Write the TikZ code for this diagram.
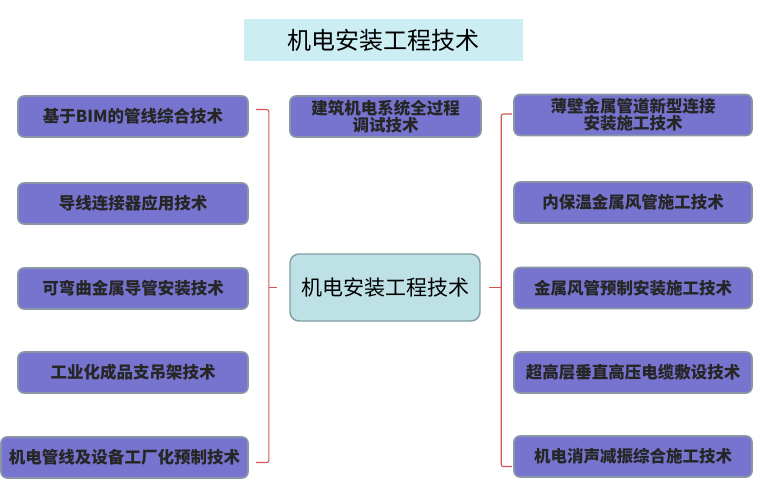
\documentclass[tikz,border=0pt]{standalone}
\usepackage{fontspec}
\usepackage{tikz}
\usetikzlibrary{positioning, calc}
\newfontfamily\cjk{Noto Sans CJK SC}
\definecolor{boxfill}{RGB}{118,116,206}
\definecolor{boxline}{RGB}{138,150,166}
\definecolor{titlefill}{RGB}{204,238,242}
\definecolor{hubfill}{RGB}{190,225,229}
\definecolor{hubline}{RGB}{128,158,160}
\definecolor{bracered}{RGB}{212,84,84}

\begin{document}
\begin{tikzpicture}[x=1pt, y=-1pt, font=\cjk,
  B/.style={rectangle, rounded corners=6pt, draw=boxline, line width=1.6pt, fill=boxfill,
    minimum height=41pt, inner sep=1pt, align=center, text=black!85,
    font=\cjk\bfseries\fontsize{16.5}{19}\selectfont},
  T/.style={rectangle, fill=titlefill, minimum width=279pt, minimum height=42pt,
    font=\cjk\fontsize{24}{28}\selectfont},
  C/.style={rectangle, rounded corners=9pt, draw=hubline, line width=1.4pt, fill=hubfill,
    minimum width=190pt, minimum height=67pt, font=\cjk\fontsize{21}{25}\selectfont},
  br/.style={draw=bracered, line width=1.1pt, rounded corners=2pt}]
\useasboundingbox (0,0) rectangle (760,488);
% title and hub
\node[T] (title) at (383.5,40) {机电安装工程技术};
\node[C] (hub) at (385,287.5) {机电安装工程技术};
\node[B, minimum width=191pt] (top) at (385.5,116.5) {建筑机电系统全过程\\[-2pt]调试技术};
% left group
\node[B, minimum width=230pt] (L1) at (133,116.5) {基于BIM的管线综合技术};
\node[B, minimum width=230pt] (L2) at (133,203.5) {导线连接器应用技术};
\node[B, minimum width=230pt] (L3) at (133,288.5) {可弯曲金属导管安装技术};
\node[B, minimum width=230pt] (L4) at (133,372.5) {工业化成品支吊架技术};
\node[B, minimum width=247pt] (L5) at (124.5,457.5) {机电管线及设备工厂化预制技术};
% right group
\node[B, minimum width=238pt] (R1) at (633,115) {薄壁金属管道新型连接\\[-2pt]安装施工技术};
\node[B, minimum width=238pt] (R2) at (633,202.5) {内保温金属风管施工技术};
\node[B, minimum width=238pt] (R3) at (633,288) {金属风管预制安装施工技术};
\node[B, minimum width=238pt] (R4) at (633,372.5) {超高层垂直高压电缆敷设技术};
\node[B, minimum width=238pt] (R5) at (633,456.5) {机电消声减振综合施工技术};
% braces
\coordinate (lt) at ([shift={(7pt,7pt)}]L1.east);
\coordinate (lb) at ([shift={(7pt,-5pt)}]L5.east);
\coordinate (lm) at ([xshift=-12pt]hub.west);
\coordinate (rt) at ([shift={(-1pt,1pt)}]R1.west);
\coordinate (rb) at ([shift={(-1pt,-10pt)}]R5.west);
\coordinate (rm) at ([xshift=8pt]hub.east);
\draw[br] (lt) -- ++(13,0) coordinate (ltc) -- (ltc |- lb) -- (lb);
\draw[br] (ltc |- lm) -- (lm);
\draw[br] (rt) -- ++(-11,0) coordinate (rtc) -- (rtc |- rb) -- (rb);
\draw[br] (rtc |- rm) -- (rm);
\end{tikzpicture}
\end{document}
